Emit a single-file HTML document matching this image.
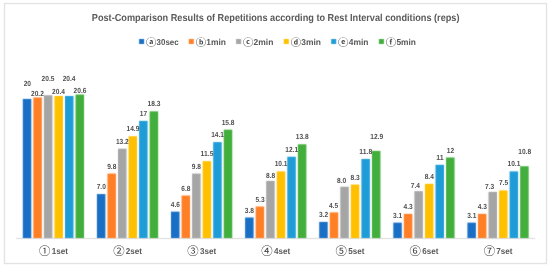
<!DOCTYPE html>
<html lang="en"><head><meta charset="utf-8"><title>Post-Comparison Results of Repetitions</title>
<style>html,body{margin:0;padding:0;background:#fff}body{width:550px;height:267px;overflow:hidden}svg{display:block}text{font-family:"Liberation Sans","Noto Sans CJK KR",sans-serif;fill:#595959;font-weight:bold;text-rendering:geometricPrecision}.c{font-family:"Noto Sans CJK KR","Noto Sans CJK JP","DejaVu Sans",sans-serif;font-weight:bold;fill:#4a4a4a}.n{font-weight:normal;fill:#3a3a3a}.d{fill:#505050}</style></head><body>
<svg width="550" height="267" viewBox="0 0 550 267">
<defs><filter id="soft" x="0" y="0" width="550" height="267" filterUnits="userSpaceOnUse" color-interpolation-filters="sRGB"><feConvolveMatrix order="3" kernelMatrix="1 6 1 6 36 6 1 6 1" divisor="64" edgeMode="duplicate" preserveAlpha="false"/></filter></defs>
<g filter="url(#soft)">
<rect x="0" y="0" width="550" height="267" fill="#fff"/>
<rect x="4.5" y="3.5" width="542" height="260" fill="none" stroke="#d9d9d9" stroke-width="1"/>
<rect x="139.1" y="39" width="5" height="5" fill="#196FC6"/>
<rect x="188.8" y="39" width="5" height="5" fill="#FF7F27"/>
<rect x="236.1" y="39" width="5" height="5" fill="#A5A5A5"/>
<rect x="283.8" y="39" width="5" height="5" fill="#FFC000"/>
<rect x="331.2" y="39" width="5" height="5" fill="#1E9CD8"/>
<rect x="378.9" y="39" width="5" height="5" fill="#42AE3C"/>
<line x1="16" y1="238.5" x2="535" y2="238.5" stroke="#d9d9d9" stroke-width="1"/>
<rect x="22.80" y="98.92" width="8.50" height="139.08" fill="#196FC6"/>
<rect x="33.35" y="97.46" width="8.50" height="140.54" fill="#FF7F27"/>
<rect x="43.90" y="95.26" width="8.50" height="142.74" fill="#A5A5A5"/>
<rect x="54.45" y="95.99" width="8.50" height="142.01" fill="#FFC000"/>
<rect x="65.00" y="95.99" width="8.50" height="142.01" fill="#1E9CD8"/>
<rect x="75.55" y="94.53" width="8.50" height="143.47" fill="#42AE3C"/>
<rect x="96.90" y="194.08" width="8.50" height="43.92" fill="#196FC6"/>
<rect x="107.45" y="173.58" width="8.50" height="64.42" fill="#FF7F27"/>
<rect x="118.00" y="148.70" width="8.50" height="89.30" fill="#A5A5A5"/>
<rect x="128.55" y="136.25" width="8.50" height="101.75" fill="#FFC000"/>
<rect x="139.10" y="120.88" width="8.50" height="117.12" fill="#1E9CD8"/>
<rect x="149.65" y="111.36" width="8.50" height="126.64" fill="#42AE3C"/>
<rect x="171.00" y="211.65" width="8.50" height="26.35" fill="#196FC6"/>
<rect x="181.55" y="195.54" width="8.50" height="42.46" fill="#FF7F27"/>
<rect x="192.10" y="173.58" width="8.50" height="64.42" fill="#A5A5A5"/>
<rect x="202.65" y="161.14" width="8.50" height="76.86" fill="#FFC000"/>
<rect x="213.20" y="142.11" width="8.50" height="95.89" fill="#1E9CD8"/>
<rect x="223.75" y="129.66" width="8.50" height="108.34" fill="#42AE3C"/>
<rect x="245.10" y="217.50" width="8.50" height="20.50" fill="#196FC6"/>
<rect x="255.65" y="206.52" width="8.50" height="31.48" fill="#FF7F27"/>
<rect x="266.20" y="180.90" width="8.50" height="57.10" fill="#A5A5A5"/>
<rect x="276.75" y="171.39" width="8.50" height="66.61" fill="#FFC000"/>
<rect x="287.30" y="156.75" width="8.50" height="81.25" fill="#1E9CD8"/>
<rect x="297.85" y="144.30" width="8.50" height="93.70" fill="#42AE3C"/>
<rect x="319.20" y="221.90" width="8.50" height="16.10" fill="#196FC6"/>
<rect x="329.75" y="212.38" width="8.50" height="25.62" fill="#FF7F27"/>
<rect x="340.30" y="186.76" width="8.50" height="51.24" fill="#A5A5A5"/>
<rect x="350.85" y="184.56" width="8.50" height="53.44" fill="#FFC000"/>
<rect x="361.40" y="158.94" width="8.50" height="79.06" fill="#1E9CD8"/>
<rect x="371.95" y="150.89" width="8.50" height="87.11" fill="#42AE3C"/>
<rect x="393.30" y="222.63" width="8.50" height="15.37" fill="#196FC6"/>
<rect x="403.85" y="213.84" width="8.50" height="24.16" fill="#FF7F27"/>
<rect x="414.40" y="191.15" width="8.50" height="46.85" fill="#A5A5A5"/>
<rect x="424.95" y="183.83" width="8.50" height="54.17" fill="#FFC000"/>
<rect x="435.50" y="164.80" width="8.50" height="73.20" fill="#1E9CD8"/>
<rect x="446.05" y="157.48" width="8.50" height="80.52" fill="#42AE3C"/>
<rect x="467.40" y="222.63" width="8.50" height="15.37" fill="#196FC6"/>
<rect x="477.95" y="213.84" width="8.50" height="24.16" fill="#FF7F27"/>
<rect x="488.50" y="191.88" width="8.50" height="46.12" fill="#A5A5A5"/>
<rect x="499.05" y="190.42" width="8.50" height="47.58" fill="#FFC000"/>
<rect x="509.60" y="171.39" width="8.50" height="66.61" fill="#1E9CD8"/>
<rect x="520.15" y="166.26" width="8.50" height="71.74" fill="#42AE3C"/>
</g>
<g>
<text x="91.8" y="21" font-size="10.2" textLength="367.7" lengthAdjust="spacingAndGlyphs">Post-Comparison Results of Repetitions according to Rest Interval conditions (reps)</text>
<text class="c" x="151.2" y="45.5" font-size="10.4" text-anchor="middle">ⓐ</text>
<text x="156.6" y="45" font-size="8.6" textLength="22.1" lengthAdjust="spacingAndGlyphs">30sec</text>
<text class="c" x="200.9" y="45.5" font-size="10.4" text-anchor="middle">ⓑ</text>
<text x="206.3" y="45" font-size="8.6" textLength="19.7" lengthAdjust="spacingAndGlyphs">1min</text>
<text class="c" x="248.2" y="45.5" font-size="10.4" text-anchor="middle">ⓒ</text>
<text x="253.6" y="45" font-size="8.6" textLength="19.8" lengthAdjust="spacingAndGlyphs">2min</text>
<text class="c" x="295.9" y="45.5" font-size="10.4" text-anchor="middle">ⓓ</text>
<text x="301.3" y="45" font-size="8.6" textLength="19.7" lengthAdjust="spacingAndGlyphs">3min</text>
<text class="c" x="343.3" y="45.5" font-size="10.4" text-anchor="middle">ⓔ</text>
<text x="348.7" y="45" font-size="8.6" textLength="19.7" lengthAdjust="spacingAndGlyphs">4min</text>
<text class="c" x="391.0" y="45.5" font-size="10.4" text-anchor="middle">ⓕ</text>
<text x="396.4" y="45" font-size="8.6" textLength="19.5" lengthAdjust="spacingAndGlyphs">5min</text>
<text x="23.63" y="85.90" class="d" font-size="7.4" textLength="7.34" lengthAdjust="spacingAndGlyphs">20</text>
<text x="30.98" y="95.60" class="d" font-size="7.4" textLength="12.84" lengthAdjust="spacingAndGlyphs">20.2</text>
<text x="41.58" y="81.20" class="d" font-size="7.4" textLength="12.84" lengthAdjust="spacingAndGlyphs">20.5</text>
<text x="52.08" y="94.30" class="d" font-size="7.4" textLength="12.84" lengthAdjust="spacingAndGlyphs">20.4</text>
<text x="62.68" y="81.00" class="d" font-size="7.4" textLength="12.84" lengthAdjust="spacingAndGlyphs">20.4</text>
<text x="73.58" y="92.80" class="d" font-size="7.4" textLength="12.84" lengthAdjust="spacingAndGlyphs">20.6</text>
<text class="c n" x="44.75" y="254.6" font-size="11.4" text-anchor="middle">①</text>
<text x="51.75" y="254" font-size="8.6" textLength="16.2" lengthAdjust="spacingAndGlyphs">1set</text>
<text x="96.66" y="189.18" class="d" font-size="7.4" textLength="9.17" lengthAdjust="spacingAndGlyphs">7.0</text>
<text x="107.21" y="168.68" class="d" font-size="7.4" textLength="9.17" lengthAdjust="spacingAndGlyphs">9.8</text>
<text x="115.93" y="143.80" class="d" font-size="7.4" textLength="12.84" lengthAdjust="spacingAndGlyphs">13.2</text>
<text x="126.48" y="131.35" class="d" font-size="7.4" textLength="12.84" lengthAdjust="spacingAndGlyphs">14.9</text>
<text x="139.78" y="115.98" class="d" font-size="7.4" textLength="7.34" lengthAdjust="spacingAndGlyphs">17</text>
<text x="147.58" y="106.46" class="d" font-size="7.4" textLength="12.84" lengthAdjust="spacingAndGlyphs">18.3</text>
<text class="c n" x="118.85" y="254.6" font-size="11.4" text-anchor="middle">②</text>
<text x="125.85" y="254" font-size="8.6" textLength="16.2" lengthAdjust="spacingAndGlyphs">2set</text>
<text x="170.76" y="206.75" class="d" font-size="7.4" textLength="9.17" lengthAdjust="spacingAndGlyphs">4.6</text>
<text x="181.31" y="190.64" class="d" font-size="7.4" textLength="9.17" lengthAdjust="spacingAndGlyphs">6.8</text>
<text x="191.86" y="168.68" class="d" font-size="7.4" textLength="9.17" lengthAdjust="spacingAndGlyphs">9.8</text>
<text x="200.58" y="156.24" class="d" font-size="7.4" textLength="12.84" lengthAdjust="spacingAndGlyphs">11.5</text>
<text x="211.13" y="137.21" class="d" font-size="7.4" textLength="12.84" lengthAdjust="spacingAndGlyphs">14.1</text>
<text x="221.68" y="124.76" class="d" font-size="7.4" textLength="12.84" lengthAdjust="spacingAndGlyphs">15.8</text>
<text class="c n" x="192.95" y="254.6" font-size="11.4" text-anchor="middle">③</text>
<text x="199.95" y="254" font-size="8.6" textLength="16.2" lengthAdjust="spacingAndGlyphs">3set</text>
<text x="244.86" y="212.60" class="d" font-size="7.4" textLength="9.17" lengthAdjust="spacingAndGlyphs">3.8</text>
<text x="255.41" y="201.62" class="d" font-size="7.4" textLength="9.17" lengthAdjust="spacingAndGlyphs">5.3</text>
<text x="266.01" y="178.00" class="d" font-size="7.4" textLength="9.17" lengthAdjust="spacingAndGlyphs">8.8</text>
<text x="274.68" y="166.49" class="d" font-size="7.4" textLength="12.84" lengthAdjust="spacingAndGlyphs">10.1</text>
<text x="285.23" y="151.85" class="d" font-size="7.4" textLength="12.84" lengthAdjust="spacingAndGlyphs">12.1</text>
<text x="295.78" y="139.40" class="d" font-size="7.4" textLength="12.84" lengthAdjust="spacingAndGlyphs">13.8</text>
<text class="c n" x="267.05" y="254.6" font-size="11.4" text-anchor="middle">④</text>
<text x="274.05" y="254" font-size="8.6" textLength="16.2" lengthAdjust="spacingAndGlyphs">4set</text>
<text x="318.96" y="217.00" class="d" font-size="7.4" textLength="9.17" lengthAdjust="spacingAndGlyphs">3.2</text>
<text x="328.91" y="208.00" class="d" font-size="7.4" textLength="9.17" lengthAdjust="spacingAndGlyphs">4.5</text>
<text x="337.01" y="183.00" class="d" font-size="7.4" textLength="9.17" lengthAdjust="spacingAndGlyphs">8.0</text>
<text x="350.61" y="179.66" class="d" font-size="7.4" textLength="9.17" lengthAdjust="spacingAndGlyphs">8.3</text>
<text x="359.33" y="154.04" class="d" font-size="7.4" textLength="12.84" lengthAdjust="spacingAndGlyphs">11.8</text>
<text x="370.28" y="138.70" class="d" font-size="7.4" textLength="12.84" lengthAdjust="spacingAndGlyphs">12.9</text>
<text class="c n" x="341.15" y="254.6" font-size="11.4" text-anchor="middle">⑤</text>
<text x="348.15" y="254" font-size="8.6" textLength="16.2" lengthAdjust="spacingAndGlyphs">5set</text>
<text x="393.06" y="217.73" class="d" font-size="7.4" textLength="9.17" lengthAdjust="spacingAndGlyphs">3.1</text>
<text x="403.61" y="208.94" class="d" font-size="7.4" textLength="9.17" lengthAdjust="spacingAndGlyphs">4.3</text>
<text x="410.81" y="188.00" class="d" font-size="7.4" textLength="9.17" lengthAdjust="spacingAndGlyphs">7.4</text>
<text x="424.71" y="178.93" class="d" font-size="7.4" textLength="9.17" lengthAdjust="spacingAndGlyphs">8.4</text>
<text x="436.18" y="159.90" class="d" font-size="7.4" textLength="7.34" lengthAdjust="spacingAndGlyphs">11</text>
<text x="446.73" y="152.58" class="d" font-size="7.4" textLength="7.34" lengthAdjust="spacingAndGlyphs">12</text>
<text class="c n" x="415.25" y="254.6" font-size="11.4" text-anchor="middle">⑥</text>
<text x="422.25" y="254" font-size="8.6" textLength="16.2" lengthAdjust="spacingAndGlyphs">6set</text>
<text x="467.16" y="217.73" class="d" font-size="7.4" textLength="9.17" lengthAdjust="spacingAndGlyphs">3.1</text>
<text x="477.71" y="208.94" class="d" font-size="7.4" textLength="9.17" lengthAdjust="spacingAndGlyphs">4.3</text>
<text x="485.11" y="189.00" class="d" font-size="7.4" textLength="9.17" lengthAdjust="spacingAndGlyphs">7.3</text>
<text x="498.91" y="185.00" class="d" font-size="7.4" textLength="9.17" lengthAdjust="spacingAndGlyphs">7.5</text>
<text x="507.53" y="166.49" class="d" font-size="7.4" textLength="12.84" lengthAdjust="spacingAndGlyphs">10.1</text>
<text x="518.28" y="154.30" class="d" font-size="7.4" textLength="12.84" lengthAdjust="spacingAndGlyphs">10.8</text>
<text class="c n" x="489.35" y="254.6" font-size="11.4" text-anchor="middle">⑦</text>
<text x="496.35" y="254" font-size="8.6" textLength="16.2" lengthAdjust="spacingAndGlyphs">7set</text>
</g>
</svg></body></html>
